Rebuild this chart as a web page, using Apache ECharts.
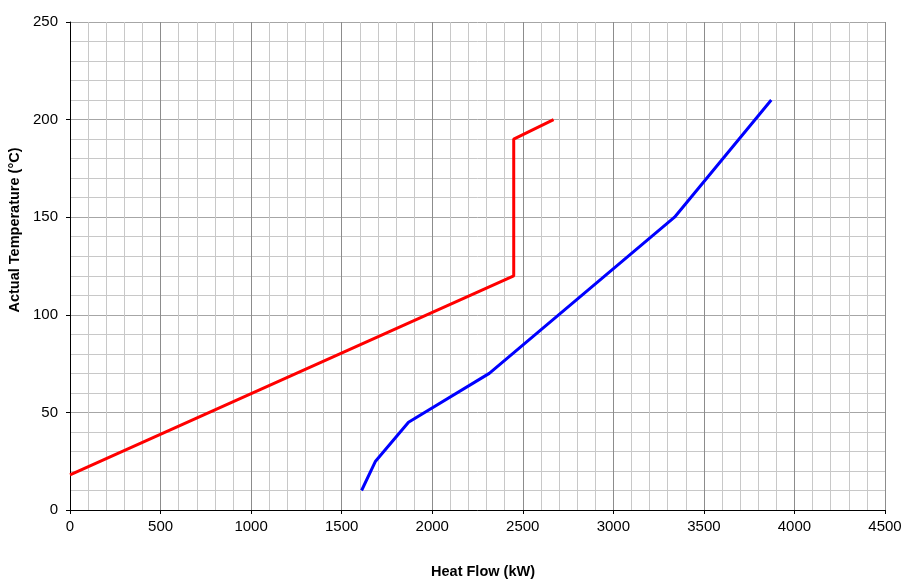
<!DOCTYPE html>
<html>
<head>
<meta charset="utf-8">
<script src="https://cdn.jsdelivr.net/npm/echarts@6/dist/echarts.min.js"></script>
<style>html,body{margin:0;padding:0;background:#fff}#c{width:908px;height:584px}</style>
</head>
<body>
<div id="c"></div>
<script>
// Data
const redX = [0, 2450, 2450, 2670];
const redY = [18, 120, 190, 200];
const blueX = [1610, 1687, 1869, 2315, 3338, 3872];
const blueY = [10, 25, 45, 70, 150, 210];
const xTitle = 'Heat Flow (kW)';
const yTitle = 'Actual Temperature (°C)';

const pairs = (xs, ys) => xs.map((x, i) => [x, ys[i]]);
const font = '"Liberation Sans", Arial, sans-serif';

const chart = echarts.init(document.getElementById('c'), null, {renderer: 'canvas'});
chart.setOption({
  animation: false,
  backgroundColor: '#ffffff',
  grid: {left: 70, right: 23, top: 22, bottom: 74, containLabel: false},
  xAxis: {
    type: 'value', min: 0, max: 4500, interval: 500,
    axisLine: {show: true, onZero: false, lineStyle: {color: '#000', width: 1}},
    axisTick: {show: true, length: 4, lineStyle: {color: '#000'}},
    axisLabel: {color: '#000', fontSize: 15, fontFamily: font, margin: 9, formatter: v => String(v)},
    splitLine: {show: true, lineStyle: {color: '#8c8c8c', width: 1}},
    minorTick: {show: false, splitNumber: 5},
    minorSplitLine: {show: true, lineStyle: {color: '#c8c8c8', width: 1}}
  },
  yAxis: {
    type: 'value', min: 0, max: 250, interval: 50,
    axisLine: {show: true, onZero: false, lineStyle: {color: '#000', width: 1}},
    axisTick: {show: true, length: 4, lineStyle: {color: '#000'}},
    axisLabel: {color: '#000', fontSize: 15, fontFamily: font, margin: 12, formatter: v => String(v)},
    splitLine: {show: true, lineStyle: {color: '#a6a6a6', width: 1}},
    minorTick: {show: false, splitNumber: 5},
    minorSplitLine: {show: true, lineStyle: {color: '#c8c8c8', width: 1}}
  },
  graphic: [
    {type: 'text', x: 483, y: 572,
     style: {text: xTitle, font: 'bold 14.5px ' + font, fill: '#000', align: 'center', verticalAlign: 'middle'}},
    {type: 'text', x: 15, y: 230, rotation: Math.PI / 2,
     style: {text: yTitle, font: 'bold 14.5px ' + font, fill: '#000', align: 'center', verticalAlign: 'middle'}}
  ],
  series: [
    {type: 'line', data: pairs(redX, redY), showSymbol: false, symbol: 'none',
     lineStyle: {color: '#ff0000', width: 3}, z: 3},
    {type: 'line', data: pairs(blueX, blueY), showSymbol: false, symbol: 'none',
     lineStyle: {color: '#0000ff', width: 3}, z: 3}
  ]
});
</script>
</body>
</html>
